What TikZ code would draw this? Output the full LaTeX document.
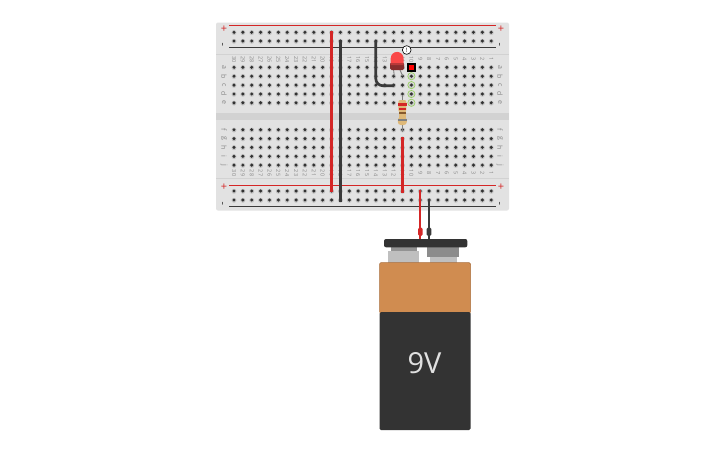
\documentclass[tikz,border=0pt]{standalone}
\usepackage{fontspec}
\setmainfont{Open Sans}
\usetikzlibrary{positioning, calc}
\definecolor{BoardGray}{RGB}{226,226,226}
\definecolor{MidGray}{RGB}{210,210,210}
\definecolor{HoleDark}{RGB}{50,50,50}
\definecolor{HoleHalo}{RGB}{196,196,196}
\definecolor{LabelGray}{RGB}{135,135,135}
\definecolor{WireRed}{RGB}{212,38,38}
\definecolor{WireDark}{RGB}{58,58,58}
\definecolor{BattDark}{RGB}{51,51,51}
\definecolor{BattTan}{RGB}{208,140,80}
\definecolor{BattEdge}{RGB}{170,110,60}
\definecolor{LedRed}{RGB}{250,72,72}
\definecolor{LedDark}{RGB}{135,45,45}
\definecolor{BandTan}{RGB}{222,184,120}
\definecolor{PadGreen}{RGB}{150,205,95}
\tikzset{
  boardtext/.style={font=\fontsize{5.5}{5.5}\selectfont, text=LabelGray, rotate=-90, inner sep=0pt},
  railplus/.style={font=\fontsize{11}{11}\selectfont, text=WireRed, inner sep=0pt},
  railminus/.style={font=\fontsize{11}{11}\selectfont, text=WireDark, rotate=90, inner sep=0pt},
  jumper/.style={line width=2.7pt},
  lead/.style={line width=2.3pt},
  pad/.style={circle, draw=PadGreen, line width=0.7pt, minimum size=7.2pt, inner sep=0pt}
}
\begin{document}
\begin{tikzpicture}[x=1pt, y=-1pt]
    \useasboundingbox (0,0) rectangle (725,453);
    \fill [white] (0,0) rectangle (725,453);
    % board
    \fill [BoardGray, rounded corners=2pt] (216,22.5) rectangle (509,210.5);
    \fill [MidGray] (216,112.5) rectangle (509,120);
    \draw [MidGray, line width=0.6pt] (216,54.3) -- (509,54.3);
    \draw [MidGray, line width=0.6pt] (216,178.3) -- (509,178.3);
    % rails
    \draw [line width=1.2pt, WireRed] (229,25.8) -- (496,25.8);
    \draw [line width=1.2pt, WireDark] (229,47.3) -- (496,47.3);
    \draw [line width=1.2pt, WireRed] (229,185.3) -- (496,185.3);
    \draw [line width=1.2pt, WireDark] (229,206.3) -- (496,206.3);
    \foreach \signx in {224,501}{
      \node [railplus] (plusa\signx) at (\signx,29.5) {+};
      \node [railminus] (minusa\signx) at (\signx,45) {-};
      \node [railplus] (plusb\signx) at (\signx,187.7) {+};
      \node [railminus] (minusb\signx) at (\signx,203.5) {-};
    }
    % holes
    \foreach \holey in {32.3,41,67.3,76.2,85.1,94,102.8,129.7,138.6,147.4,156.3,165.1,191,200}{
      \foreach \col in {0,...,29}{
        \fill [HoleHalo] ({234+8.87*\col},\holey+0.3) circle (2.5pt);
        \fill [HoleDark] ({234+8.87*\col},\holey) circle (1.7pt);
      }
    }
    % column numbers and row letters
    \foreach \col in {0,...,29}{
      \pgfmathtruncatemacro{\num}{30-\col}
      \node [boardtext] (numa\num) at ({234+8.87*\col},59.5) {\num};
      \node [boardtext] (numb\num) at ({234+8.87*\col},173) {\num};
    }
    \foreach \rowy/\letter in {67.3/a,76.2/b,85.1/c,94/d,102.8/e,129.7/f,138.6/g,147.4/h,156.3/i,165.1/j}{
      \node [boardtext, font=\fontsize{7}{7}\selectfont] (left\letter) at (224,\rowy) {\letter};
      \node [boardtext, font=\fontsize{7}{7}\selectfont] (right\letter) at (500,\rowy) {\letter};
    }
    % wires on the board
    \coordinate (redtop) at (331.3,31);
    \coordinate (redbot) at (331.3,192.3);
    \coordinate (darktop) at (340.3,40);
    \coordinate (darkbot) at (340.3,202);
    \coordinate (bendtop) at (375.8,41);
    \coordinate (bendend) at (394.3,85.7);
    \coordinate (shorttop) at (402.3,137.3);
    \coordinate (shortbot) at (402.3,192.7);
    \draw [jumper, WireRed] (redtop) -- (redbot);
    \draw [jumper, WireDark] (darktop) -- (darkbot);
    \draw [jumper, WireDark, rounded corners=7pt] (bendtop) |- (bendend);
    \draw [jumper, WireRed] (shorttop) -- (shortbot);
    % led
    \draw [line width=0.9pt, gray] (393.6,70) -- (394.3,76);
    \draw [line width=0.9pt, gray] (400,70) -- (402.7,76);
    \fill [LedDark, rounded corners=1.5pt] (390,62.7) rectangle (404,70);
    \fill [LedRed] (390.7,65) -- (390.7,58.3) arc (180:360:6.4) -- (403.5,65) -- cycle;
    \fill [LedDark, opacity=0.55] (390.3,63) rectangle (403.8,65.5);
    \node [circle, draw=black, fill=white, line width=0.6pt, minimum size=8.7pt, inner sep=0pt,
      font=\fontsize{6}{6}\selectfont] (warn) at (406.7,50) {!};
    \node [fill=black, minimum size=8.6pt, inner sep=0pt] (pinsel) at (411.3,67.5) {};
    \fill [red] (408.8,65) rectangle (413.8,70);
    \foreach \rowy in {76.2,85.1,94,102.8}{
      \node [pad] (pad\rowy) at (411.4,\rowy) {};
    }
    % resistor
    \draw [line width=1pt, gray] (402.3,95) -- (402.3,131.5);
    \fill [BandTan, rounded corners=2pt] (398.3,100) rectangle (406.3,112);
    \fill [BandTan] (398.7,110) rectangle (405.7,119);
    \fill [BandTan, rounded corners=3pt] (397.8,117) rectangle (406.8,125);
    \fill [WireRed] (398,103.3) rectangle (406.7,105.7);
    \fill [WireRed] (398.5,107.7) rectangle (406.2,110);
    \fill [brown!70!black] (398.7,112.3) rectangle (405.7,114.3);
    \fill [gray] (398,119) rectangle (406.7,121);
    % battery leads
    \coordinate (leadred) at (420.3,190.3);
    \coordinate (leaddark) at (429,199.3);
    \coordinate (capred) at (420.3,239);
    \coordinate (capdark) at (429,239);
    \draw [lead, WireRed] (leadred) -- (capred);
    \draw [lead, WireDark] (leaddark) -- (capdark);
    \fill [WireRed, rounded corners=1.5pt] (418,227.5) rectangle (422.7,236);
    \fill [WireDark, rounded corners=1.5pt] (426.7,227.5) rectangle (431.4,236);
    % battery
    \fill [gray!85] (390.7,246) rectangle (416.7,252);
    \fill [gray!50] (388.3,251) rectangle (419,263);
    \fill [gray!90] (427.3,246) rectangle (459,257);
    \fill [gray!50] (430,257) rectangle (456.7,263);
    \fill [BattDark, rounded corners=2pt] (384,239) rectangle (467.3,247.3);
    \fill [BattTan, rounded corners=1.5pt] (379.5,262.5) rectangle (470.5,314);
    \draw [BattEdge, line width=0.5pt, rounded corners=1.5pt] (379.5,312) -- (379.5,262.5) -- (470.5,262.5) -- (470.5,312);
    \fill [BattDark, rounded corners=1.5pt] (379.5,312) rectangle (470.5,430);
    \node [text=white!88!black, font=\fontsize{29}{29}\selectfont, inner sep=0pt] (label) at (424.5,363) {9V};
\end{tikzpicture}
\end{document}
